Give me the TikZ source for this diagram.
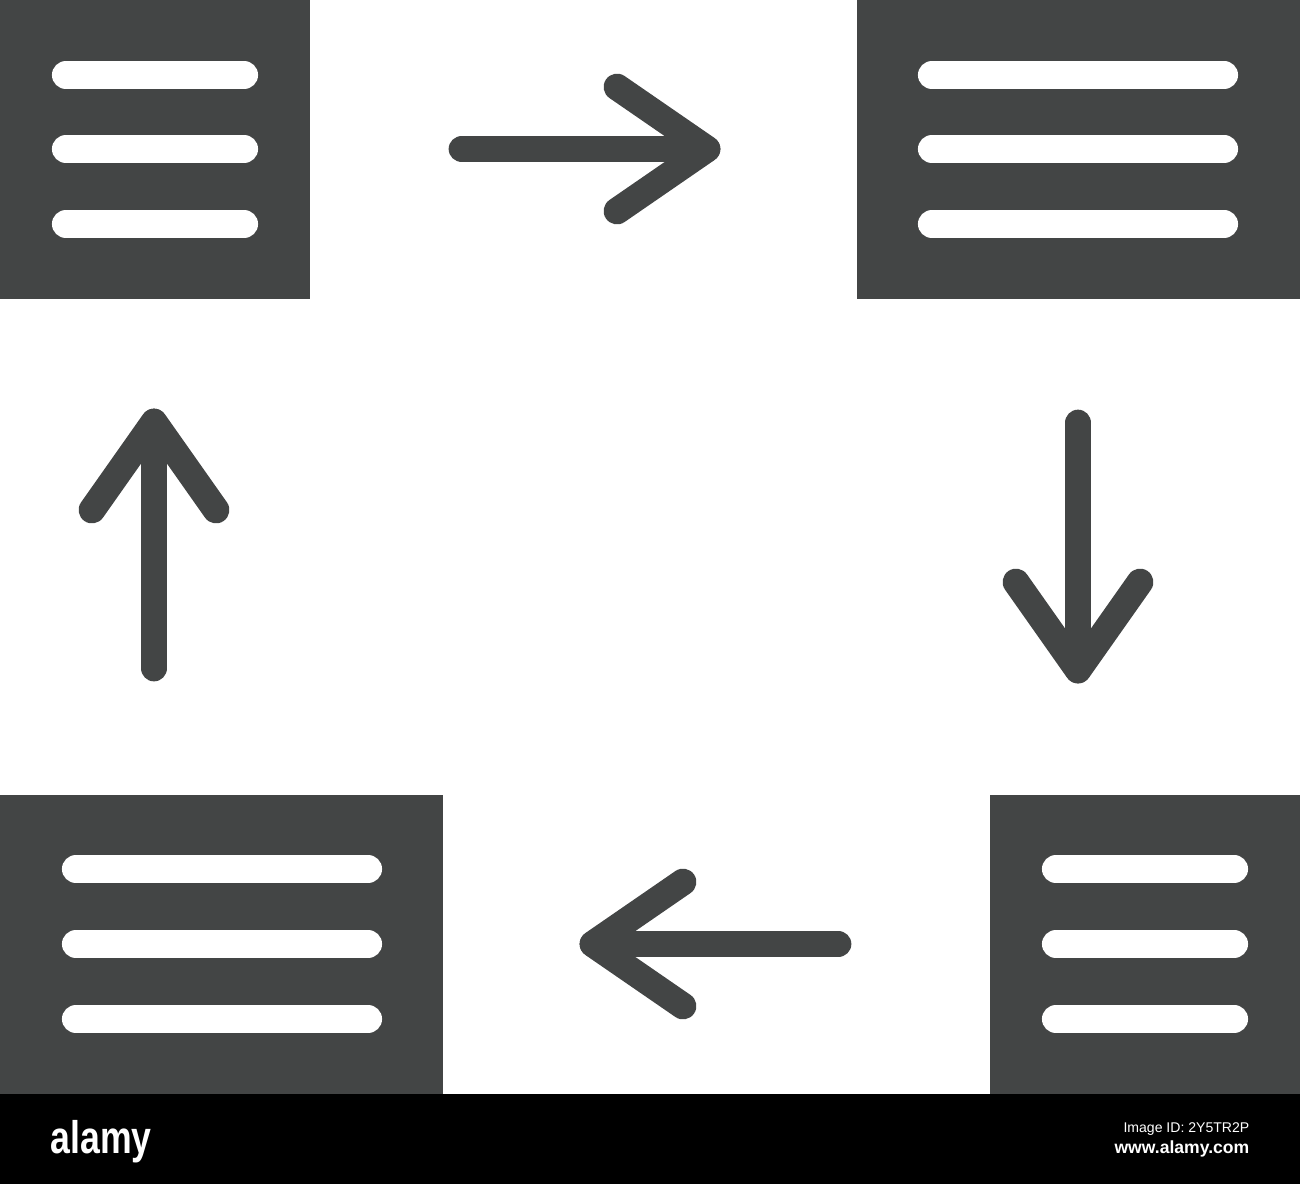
\documentclass[tikz,border=0pt]{standalone}
\usepackage{fontspec}
\setsansfont{Liberation Sans}
\usetikzlibrary{positioning}
\definecolor{icongray}{RGB}{67,69,69}
\tikzset{
  docbox/.style={fill=icongray, inner sep=0pt, outer sep=0pt, anchor=north west, minimum height=29.9mm},
  textline/.style={white, line width=8pt, line cap=round},
  flowarrow/.style={icongray, line width=7.6pt, line cap=round, line join=round},
  footertext/.style={white, inner sep=0pt, font=\sffamily},
}

\begin{document}
\begin{tikzpicture}[x=0.1mm, y=-0.1mm]
\useasboundingbox (0,0) rectangle (1300,1184);

% Document boxes
\node[docbox, minimum width=31mm] (tl) at (0,0) {};
\node[docbox, minimum width=44.3mm] (tr) at (857,0) {};
\node[docbox, minimum width=44.3mm] (bl) at (0,795) {};
\node[docbox, minimum width=31mm] (br) at (990,795) {};

% Text lines
\foreach \y in {75,149,224} {
    \draw[textline] (66,\y) -- (244,\y);
    \draw[textline] (932,\y) -- (1224,\y);
}
\foreach \y in {869,944,1019} {
    \draw[textline] (76,\y) -- (368,\y);
    \draw[textline] (1056,\y) -- (1234,\y);
}

% Arrow end points
\coordinate (rs) at (462,149);  \coordinate (rt) at (707,149);
\coordinate (ra) at (617,87);   \coordinate (rb) at (617,211);
\coordinate (ds) at (1078,423); \coordinate (dt) at (1078,670);
\coordinate (da) at (1016,582); \coordinate (db) at (1140,582);
\coordinate (ls) at (838,944);  \coordinate (lt) at (593,944);
\coordinate (la) at (683,882);  \coordinate (lb) at (683,1006);
\coordinate (us) at (154,668);  \coordinate (ut) at (154,422);
\coordinate (ua) at (92,510);   \coordinate (ub) at (216,510);

% Cycle arrows
\foreach \a in {r,d,l,u} {
    \draw[flowarrow] (\a s) -- (\a t);
    \draw[flowarrow] (\a a) -- (\a t) -- (\a b);
}

% Footer
\fill[black] (0,1094) rectangle (1300,1184);
\node[footertext, anchor=base west, font=\sffamily\bfseries\fontsize{13}{13}\selectfont] (brand) at (50,1153) {\scalebox{0.78}[1]{alamy}};
\node[footertext, anchor=base east, font=\sffamily\fontsize{4}{4}\selectfont] (imgid) at (1250,1132) {Image ID: 2Y5TR2P};
\node[footertext, anchor=base east, font=\sffamily\bfseries\fontsize{5}{5}\selectfont] (site) at (1250,1153) {www.alamy.com};
\end{tikzpicture}
\end{document}
